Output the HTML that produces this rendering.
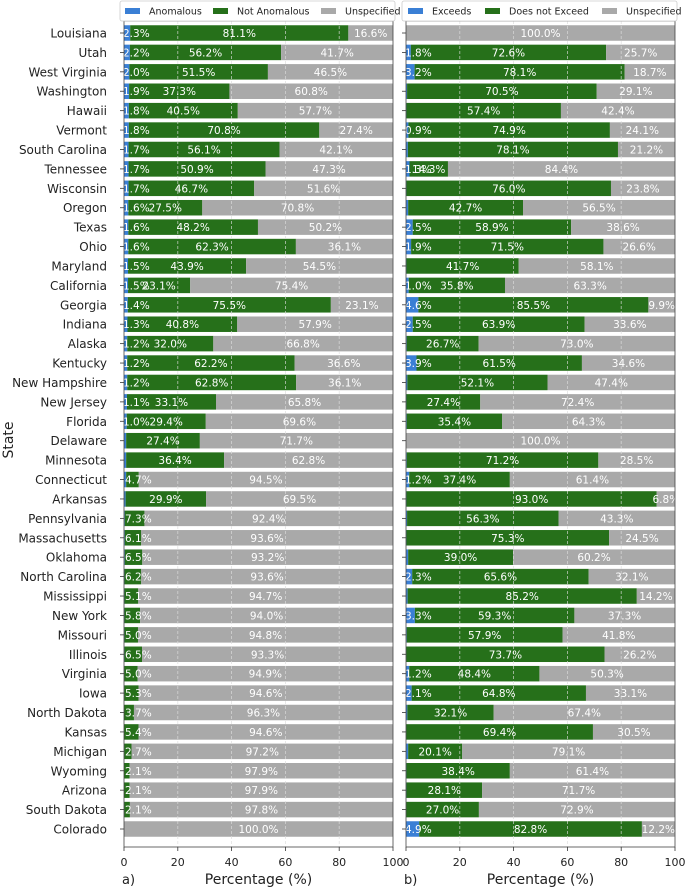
<!DOCTYPE html>
<html><head><meta charset="utf-8"><style>
body{margin:0;background:#fff;}
svg{display:block;font-family:"DejaVu Sans","Liberation Sans",sans-serif;}
</style></head><body>
<svg id="chart" width="685" height="888"></svg>
<script>
const states=["Louisiana","Utah","West Virginia","Washington","Hawaii","Vermont","South Carolina","Tennessee","Wisconsin","Oregon","Texas","Ohio","Maryland","California","Georgia","Indiana","Alaska","Kentucky","New Hampshire","New Jersey","Florida","Delaware","Minnesota","Connecticut","Arkansas","Pennsylvania","Massachusetts","Oklahoma","North Carolina","Mississippi","New York","Missouri","Illinois","Virginia","Iowa","North Dakota","Kansas","Michigan","Wyoming","Arizona","South Dakota","Colorado"];
const anomalous=[2.3,2.2,2.0,1.9,1.8,1.8,1.7,1.7,1.7,1.6,1.6,1.6,1.5,1.5,1.4,1.3,1.2,1.2,1.2,1.1,1.0,0.8,0.8,0.8,0.6,0.3,0.3,0.3,0.2,0.2,0.2,0.2,0.2,0.1,0.1,0,0,0.1,0,0,0.1,0];
const notAnomalous=[81.1,56.2,51.5,37.3,40.5,70.8,56.1,50.9,46.7,27.5,48.2,62.3,43.9,23.1,75.5,40.8,32.0,62.2,62.8,33.1,29.4,27.4,36.4,4.7,29.9,7.3,6.1,6.5,6.2,5.1,5.8,5.0,6.5,5.0,5.3,3.7,5.4,2.7,2.1,2.1,2.1,0];
const unspecA=[16.6,41.7,46.5,60.8,57.7,27.4,42.1,47.3,51.6,70.8,50.2,36.1,54.5,75.4,23.1,57.9,66.8,36.6,36.1,65.8,69.6,71.7,62.8,94.5,69.5,92.4,93.6,93.2,93.6,94.7,94.0,94.8,93.3,94.9,94.6,96.3,94.6,97.2,97.9,97.9,97.8,100.0];
const exceeds=[0,1.8,3.2,0.4,0.2,0.9,0.7,1.3,0.2,0.8,2.5,1.9,0.2,1.0,4.6,2.5,0.3,3.9,0.5,0.2,0.3,0,0.3,1.2,0.2,0.4,0.2,0.8,2.3,0.6,3.3,0.3,0.1,1.2,2.1,0.5,0.1,0.8,0.2,0.2,0.1,4.9];
const notExceed=[0,72.6,78.1,70.5,57.4,74.9,78.1,14.3,76.0,42.7,58.9,71.5,41.7,35.8,85.5,63.9,26.7,61.5,52.1,27.4,35.4,0,71.2,37.4,93.0,56.3,75.3,39.0,65.6,85.2,59.3,57.9,73.7,48.4,64.8,32.1,69.4,20.1,38.4,28.1,27.0,82.8];
const unspecB=[100.0,25.7,18.7,29.1,42.4,24.1,21.2,84.4,23.8,56.5,38.6,26.6,58.1,63.3,9.9,33.6,73.0,34.6,47.4,72.4,64.3,100.0,28.5,61.4,6.8,43.3,24.5,60.2,32.1,14.2,37.3,41.8,26.2,50.3,33.1,67.4,30.5,79.1,61.4,71.7,72.9,12.2];
const ticks=[0,20,40,60,80,100];

const NS="http://www.w3.org/2000/svg";
const svg=document.getElementById('chart');
function mk(tag,attrs,parent){const e=document.createElementNS(NS,tag);for(const k in attrs)e.setAttribute(k,attrs[k]);(parent||svg).appendChild(e);return e;}
const top0=21,bot0=847,rowY0=33,barH=15.5;
const rowStep=(829-33)/(states.length-1);
const colors=["#3a7fd5","#26701a","#a9a9a9"];
function yPos(i){return rowY0+i*rowStep;}

function panel(x0,x1,series,legendNames,legOff,tag,label){
  const sx=v=>x0+(x1-x0)*v/100;
  const g=mk('g',{});
  
  
  states.forEach((s,i)=>{
    let acc=0;const y=yPos(i);
    series.forEach((arr,k)=>{
      const v=arr[i];if(v<=0){return;}
      const r=mk('rect',{x:sx(acc),y:y-barH/2,width:sx(acc+v)-sx(acc),height:barH,fill:colors[k]},g);
      
      
      acc+=v;
    });
  });
  ticks.slice(1,5).forEach(t=>{
    mk('line',{x1:sx(t),x2:sx(t),y1:top0,y2:bot0,stroke:'#dddddd','stroke-width':0.8,'stroke-dasharray':'3,2',opacity:0.8},g);
  });
  states.forEach((s,i)=>{
    let acc=0;const y=yPos(i);
    series.forEach((arr,k)=>{
      const v=arr[i];
      if(v>=0.9){
        let cx=sx(acc+v/2);
        const t=mk('text',{x:cx,y:y+4,'font-size':10.5,fill:'#ffffff','text-anchor':'middle'},g);
        if(k===0&&v<6){t.setAttribute('x',sx(acc)-1);t.setAttribute('text-anchor','start');}
        else if(cx-13<x0){t.setAttribute('x',x0+1);t.setAttribute('text-anchor','start');}
        t.textContent=v.toFixed(1)+'%';
        
        
      }
      acc+=v;
    });
    mk('line',{x1:x0-4,x2:x0,y1:y,y2:y,stroke:'#333','stroke-width':0.8},g);
  });
  mk('rect',{x:x0,y:top0,width:x1-x0,height:bot0-top0,fill:'none',stroke:'#444','stroke-width':0.8},g);
  ticks.forEach(t=>{
    mk('line',{x1:sx(t),x2:sx(t),y1:bot0,y2:bot0+4,stroke:'#333','stroke-width':0.8},g);
    const tx=mk('text',{x:sx(t),y:866,'font-size':11,fill:'#222','text-anchor':'middle'},g);
    tx.textContent=t;
    
    
  });
  const xl=mk('text',{x:(x0+x1)/2,y:884,'font-size':14,fill:'#222','text-anchor':'middle'},g);
  xl.textContent='Percentage (%)';
  
  
  const pl=mk('text',{x:x0-2,y:884,'font-size':13,fill:'#222'},g);
  pl.textContent=label;
  
  
  const lg=mk('g',{},g);
  
  
  mk('rect',{x:x0-4,y:1,width:x1-x0+6,height:20,fill:'#fff',stroke:'#ccc','stroke-width':0.8,rx:2},lg);
  legendNames.forEach((n,k)=>{
    const lx=x0+legOff[k];
    mk('rect',{x:lx,y:8,width:15,height:6,fill:colors[k]},lg);
    const t=mk('text',{x:lx+24,y:14.5,'font-size':9.5,fill:'#222'},lg);
    t.textContent=n;
    
    
  });
}
panel(124,393,[anomalous,notAnomalous,unspecA],["Anomalous","Not Anomalous","Unspecified"],[1,89,197],'a','a)');
panel(406,675,[exceeds,notExceed,unspecB],["Exceeds","Does not Exceed","Unspecified"],[2,79,196],'b','b)');
states.forEach((s,i)=>{
  const t=mk('text',{x:107,y:yPos(i)+4.5,'font-size':12,fill:'#222','text-anchor':'end'});
  t.textContent=s;
  
  
});
const yt=mk('text',{x:13,y:440,'font-size':14,fill:'#222','text-anchor':'middle',transform:'rotate(-90 13 440)'});
yt.textContent='State';


</script>
</body></html>
